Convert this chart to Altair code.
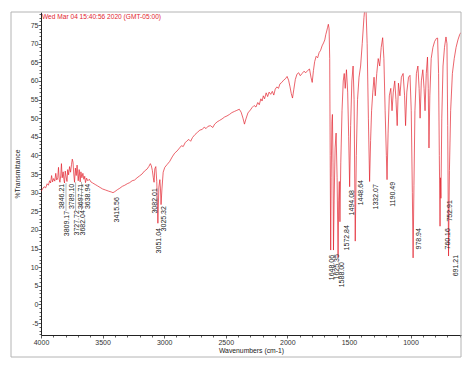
import altair as alt
import pandas as pd

# ---- spectrum (wavenumber cm-1, %T) ----
wn = [4000, 3988, 3975, 3962, 3950, 3940, 3930, 3922, 3914, 3906, 3897, 3888, 3880, 3872, 3864, 3858, 3852,
      3846.21, 3840, 3834, 3828, 3820, 3814, 3809.17, 3803, 3796, 3789.10, 3783, 3776, 3768, 3760, 3752, 3746,
      3740, 3734, 3727.72, 3721, 3714, 3707, 3697.71, 3690, 3682.04, 3676, 3668, 3660, 3652, 3645, 3638.94,
      3630, 3620, 3608, 3595, 3580, 3560, 3540, 3520, 3500, 3475, 3450, 3430, 3415.56, 3400, 3380, 3360, 3340,
      3320, 3300, 3280, 3260, 3240, 3220, 3200, 3180, 3160, 3140, 3125, 3112, 3104, 3096, 3088, 3082.01, 3076,
      3068, 3060, 3051.04, 3043, 3035, 3030, 3025.32, 3018, 3008, 2995, 2975, 2955, 2935, 2915, 2895, 2875,
      2860, 2845, 2830, 2815, 2800, 2785, 2770, 2750, 2730, 2710, 2690, 2675, 2660, 2645, 2625, 2605, 2590,
      2570, 2550, 2530, 2510, 2490, 2470, 2450, 2430, 2410, 2390, 2375, 2360, 2348, 2336, 2320, 2300, 2285,
      2270, 2255, 2240, 2228, 2215, 2205, 2195, 2185, 2172, 2160, 2148, 2135, 2122, 2110, 2098, 2085, 2072,
      2060, 2045, 2030, 2015, 2002, 1990, 1978, 1968, 1958, 1948, 1935, 1922, 1908, 1895, 1880, 1865, 1850,
      1835, 1820, 1808, 1798, 1788, 1778, 1766, 1754, 1742, 1730, 1718, 1706, 1696, 1688, 1680, 1673, 1667,
      1661, 1656, 1652, 1648.06, 1644, 1638, 1634, 1629, 1625.35, 1620, 1612, 1604, 1596, 1588.00, 1583, 1578,
      1572.84, 1566, 1556, 1546, 1538, 1530, 1520, 1510, 1502, 1494.08, 1486, 1476, 1466, 1458, 1448.64, 1440,
      1430, 1418, 1405, 1392, 1378, 1364, 1352, 1342, 1332.07, 1324, 1316, 1306, 1296, 1286, 1274, 1262, 1250,
      1238, 1226, 1216, 1206, 1196, 1190.49, 1182, 1172, 1160, 1150, 1140, 1128, 1118, 1108, 1098, 1086, 1074,
      1060, 1048, 1040, 1030, 1016, 1004, 994, 985, 978.94, 972, 964, 952, 940, 930, 922, 912, 900, 890, 882,
      872, 862, 856, 850, 843, 832, 818, 804, 790, 780, 772, 766, 760.16, 756.5, 752.91, 746, 736, 724, 712,
      704, 698, 691.21, 684, 674, 660, 645, 630, 615, 600, 590]
tr = [30.3, 31.0, 31.6, 31.3, 32.4, 32.0, 33.2, 32.6, 34.6, 32.9, 33.8, 33.1, 35.2, 33.4, 34.0, 36.8, 33.6,
      32.8, 34.5, 37.8, 34.0, 35.6, 33.5, 32.6, 35.8, 34.2, 33.0, 36.2, 34.8, 37.0, 35.5, 37.6, 39.0,
      38.2, 35.0, 32.8, 36.6, 34.6, 37.4, 33.2, 36.2, 32.9, 35.6, 34.0, 35.2, 33.6, 34.4, 32.7,
      33.9, 33.2, 33.6, 32.9, 32.6, 32.2, 31.8, 31.4, 31.0, 30.7, 30.4, 30.2, 30.0, 30.3, 30.8, 31.2, 31.7,
      32.0, 32.4, 32.7, 33.2, 33.4, 34.0, 34.5, 35.0, 35.8, 36.3, 37.0, 37.8, 37.2, 36.0, 34.0, 32.8, 36.4,
      37.0, 33.0, 21.8, 31.5, 33.5, 31.0, 26.8, 31.0, 35.5, 36.8, 37.6, 38.4, 39.6, 40.6, 41.2, 42.0,
      42.6, 42.4, 43.4, 43.9, 44.3, 43.8, 44.8, 45.6, 46.2, 46.8, 47.0, 47.6, 47.2, 47.8, 48.0, 47.5, 48.4,
      49.0, 49.4, 49.8, 50.3, 50.6, 51.0, 51.5, 51.8, 52.1, 52.4, 51.6, 50.0, 48.4, 49.8, 51.4, 52.2, 52.9,
      53.4, 53.0, 54.2, 53.6, 55.2, 54.6, 56.0, 55.2, 56.8, 55.8, 57.0, 56.4, 57.2, 56.2, 57.8, 58.4, 58.0,
      59.2, 59.6, 60.2, 60.6, 61.2, 60.2, 58.4, 56.6, 55.4, 57.6, 60.4, 61.8, 62.2, 61.4, 62.0, 62.6, 62.2,
      62.8, 63.2, 61.0, 59.6, 62.8, 65.2, 66.6, 66.2, 67.6, 68.2, 69.4, 70.2, 71.0, 72.4, 73.4, 74.4, 75.2,
      74.0, 66.0, 40.0, 14.6, 34.0, 49.0, 51.0, 38.0, 14.6, 28.0, 42.0, 46.0, 34.0, 12.6, 28.0, 33.0,
      22.2, 38.0, 52.0, 60.0, 62.0, 58.0, 63.0, 57.0, 45.0, 31.6, 48.0, 60.0, 64.0, 55.0, 17.0, 40.0,
      55.0, 61.0, 64.0, 70.0, 77.0, 82.0, 70.0, 50.0, 33.0, 44.0, 52.0, 57.0, 61.0, 56.0, 62.0, 66.0, 64.0,
      69.0, 71.6, 66.0, 52.0, 40.0, 33.5, 46.0, 56.0, 58.0, 52.0, 57.0, 60.0, 55.0, 48.0, 59.4, 56.0, 61.0,
      62.0, 56.0, 48.0, 57.0, 61.0, 61.5, 52.0, 30.0, 12.5, 32.0, 52.0, 62.0, 64.0, 58.0, 50.0, 60.0, 63.0, 58.0, 52.0,
      62.0, 66.4, 58.0, 42.0, 56.0, 66.0, 69.0, 70.6, 71.4, 71.5, 62.0, 40.0, 21.0, 34.0, 28.5, 50.0, 64.0, 69.0, 71.8,
      70.0, 48.0, 13.0, 36.0, 52.0, 62.0, 66.0, 69.0, 71.0, 72.5, 73.0]

# ---- peak annotations ----
peak_wn = [3846.21, 3809.17, 3789.10, 3727.72, 3697.71, 3682.04, 3638.94, 3415.56, 3082.01, 3051.04,
           3025.32, 1648.06, 1625.35, 1588.00, 1572.84, 1494.08, 1448.64, 1332.07, 1190.49, 978.94,
           760.16, 752.91, 691.21]
peak_txt = ["3846.21", "3809.17", "3789.10", "3727.72", "3697.71", "3682.04", "3638.94", "3415.56",
            "3082.01", "3051.04", "3025.32", "1648.06", "1625.35", "1588.00", "1572.84", "1494.08",
            "1448.64", "1332.07", "1190.49", "978.94", "760.16", "752.91", "691.21"]
# where each label sits (wavenumber of its centre line, %T of its top end)
label_at = [3829, 3789, 3752, 3711, 3675, 3663, 3618, 3386, 3073, 3045, 3000, 1634, 1593, 1553, 1512,
            1475, 1402, 1280, 1142, 935, 699, 683, 634]
label_top = [32.4, 25.1, 32.4, 25.3, 32.4, 25.3, 32.4, 28.8, 31.2, 20.5, 26.4, 13.3, 13.5, 11.4, 21.3,
             30.7, 33.4, 32.3, 32.9, 20.5, 20.5, 28.0, 13.3]

date_text = ["Wed Mar 04 15:40:56 2020 (GMT-05:00)"]
y_ticks = list(range(-8, 79))
x_ticks = list(range(4000, 599, -100))

FONT = "Liberation Sans"
RED = "#e2232e"

spec = pd.DataFrame({"wn": wn, "tr": tr})
dip_of = dict(zip(wn, tr))
peaks = pd.DataFrame({"wn": peak_wn, "at": label_at, "txt": peak_txt, "top": label_top})
peaks["dip"] = [dip_of[w] for w in peak_wn]
leaders = peaks[peaks["top"] < peaks["dip"] - 3]

xs = alt.Scale(domain=[4000, 590], nice=False, zero=False)
ys = alt.Scale(domain=[-8.2, 78.5], nice=False, zero=False)

x_axis = alt.Axis(
    values=x_ticks,
    labelExpr="datum.value % 500 === 0 ? '' + datum.value : ''",
    title="Wavenumbers (cm-1)", titleY=15, titleBaseline="middle",
    tickSize={"condition": {"test": "datum.value % 500 === 0", "value": 3}, "value": 2},
    labelPadding=0, labelFlush=False,
)
y_axis = alt.Axis(
    values=y_ticks,
    labelExpr="datum.value % 5 === 0 ? '' + datum.value : ''",
    title="%Transmittance", titleX=-24, titleY=161.5, titleAngle=270,
    titleAlign="center", titleBaseline="middle",
    tickSize={"condition": {"test": "datum.value % 5 === 0", "value": 3}, "value": 2},
    labelPadding=0, labelFlush=False,
)

line = alt.Chart(spec).mark_line(clip=True, color=RED, strokeWidth=0.7).encode(
    x=alt.X("wn:Q", scale=xs, axis=x_axis),
    y=alt.Y("tr:Q", scale=ys, axis=y_axis),
)

lead = alt.Chart(leaders).mark_rule(color="#9a9a9a", strokeWidth=0.7, xOffset=-1).encode(
    x=alt.X("at:Q", scale=xs, axis=x_axis),
    y=alt.Y("dip:Q", scale=ys, axis=y_axis),
    y2="top:Q",
)

labels = alt.Chart(peaks).mark_text(
    angle=270, align="right", baseline="middle",
    font=FONT, fontSize=7, color="#222",
).encode(
    x=alt.X("at:Q", scale=xs, axis=x_axis),
    y=alt.Y("top:Q", scale=ys, axis=y_axis),
    text="txt:N",
)

stamp = alt.Chart(pd.DataFrame({"t": date_text})).mark_text(
    align="left", baseline="middle", font=FONT, fontSize=6.6, color=RED,
).encode(x=alt.value(1), y=alt.value(5), text="t:N")

frame = alt.Chart(pd.DataFrame({"t": date_text})).mark_rect(
    fillOpacity=0, stroke="#b4b4b4", strokeWidth=1,
).encode(x=alt.value(-30), x2=alt.value(420), y=alt.value(0), y2=alt.value(345))

chart = alt.layer(line, lead, labels, stamp, frame).properties(
    width=420, height=323,
    padding={"left": 33, "top": 4, "right": 5, "bottom": 23},
    autosize=alt.AutoSizeParams(type="none"),
).configure_view(stroke=None).configure_axis(
    grid=False, domainColor="#222", domainWidth=1, tickColor="#333", tickWidth=0.8,
    labelColor="#333", labelFont=FONT, labelFontSize=7,
    titleFont=FONT, titleFontSize=6.8, titleFontWeight="normal", titleColor="#222",
)

chart.save("out.html", embed_options={"renderer": "svg", "actions": False})
